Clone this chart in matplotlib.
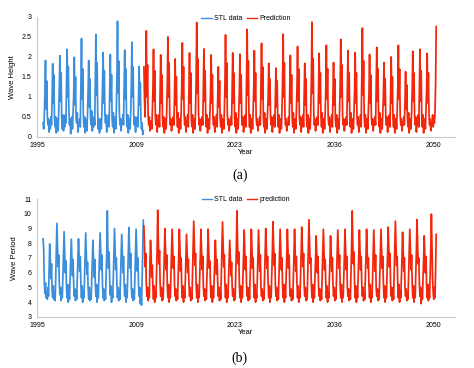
import matplotlib
matplotlib.use("Agg")
import matplotlib.pyplot as plt
import numpy as np

# samples per year (one row = one seasonal cycle)
STEPS = 12

# start of first cycle (fractional year)
OBS_START = 1995.85
PRED_START = 2009.85

# wave height, STL data, one row per year
HEIGHT_OBS = [
    [0.35, 0.20, 0.50, 1.10, 1.91, 0.70, 1.40, 0.55, 0.30, 0.45, 0.12, 0.38],
    [0.20, 0.50, 0.30, 0.95, 1.83, 0.85, 1.55, 0.45, 0.25, 0.50, 0.10, 0.30],
    [0.45, 0.15, 0.60, 1.20, 2.03, 0.90, 1.60, 0.50, 0.20, 0.55, 0.15, 0.35],
    [0.25, 0.55, 0.35, 1.30, 2.19, 1.00, 1.75, 0.60, 0.30, 0.45, 0.08, 0.40],
    [0.50, 0.20, 0.65, 1.05, 1.99, 0.80, 1.50, 0.45, 0.35, 0.60, 0.12, 0.30],
    [0.30, 0.45, 0.25, 1.35, 2.46, 0.95, 1.70, 0.55, 0.25, 0.50, 0.10, 0.45],
    [0.40, 0.15, 0.55, 1.15, 1.91, 0.75, 1.45, 0.50, 0.30, 0.65, 0.15, 0.35],
    [0.25, 0.50, 0.30, 1.40, 2.56, 1.05, 1.85, 0.60, 0.20, 0.45, 0.10, 0.40],
    [0.45, 0.20, 0.60, 1.25, 2.11, 0.85, 1.65, 0.55, 0.35, 0.55, 0.12, 0.30],
    [0.30, 0.55, 0.25, 1.10, 2.06, 0.90, 1.55, 0.45, 0.25, 0.60, 0.10, 0.35],
    [0.50, 0.20, 0.65, 1.45, 2.89, 1.10, 1.90, 0.65, 0.30, 0.45, 0.15, 0.40],
    [0.35, 0.55, 0.30, 1.20, 2.17, 0.95, 1.70, 0.50, 0.25, 0.55, 0.10, 0.35],
    [0.45, 0.20, 0.60, 1.30, 2.37, 1.00, 1.75, 0.55, 0.30, 0.50, 0.12, 0.40],
    [0.30, 0.50, 0.25, 1.00, 1.76, 0.80, 1.35, 0.45, 0.20, 0.35, 0.06, 0.15],
]

# wave height, prediction
HEIGHT_PRED = [
    [1.75, 0.90, 0.50, 1.60, 2.65, 1.00, 1.80, 0.55, 0.30, 0.50, 0.15, 0.35],
    [0.40, 0.20, 0.60, 1.20, 2.19, 0.90, 1.65, 0.50, 0.30, 0.55, 0.12, 0.35],
    [0.30, 0.55, 0.25, 1.10, 2.05, 0.85, 1.55, 0.45, 0.25, 0.50, 0.10, 0.40],
    [0.45, 0.20, 0.65, 1.35, 2.50, 1.00, 1.85, 0.55, 0.30, 0.45, 0.15, 0.35],
    [0.30, 0.50, 0.30, 1.05, 1.95, 0.80, 1.50, 0.50, 0.25, 0.60, 0.10, 0.40],
    [0.45, 0.20, 0.60, 1.25, 2.35, 0.95, 1.75, 0.55, 0.30, 0.50, 0.12, 0.35],
    [0.35, 0.55, 0.25, 1.15, 2.10, 0.85, 1.60, 0.45, 0.25, 0.55, 0.10, 0.40],
    [0.45, 0.20, 0.65, 1.45, 2.86, 1.10, 1.95, 0.60, 0.30, 0.45, 0.15, 0.35],
    [0.30, 0.50, 0.30, 1.20, 2.20, 0.90, 1.65, 0.50, 0.25, 0.55, 0.10, 0.40],
    [0.45, 0.20, 0.60, 1.10, 2.05, 0.85, 1.55, 0.50, 0.30, 0.50, 0.12, 0.35],
    [0.35, 0.55, 0.25, 0.95, 1.75, 0.75, 1.40, 0.45, 0.25, 0.55, 0.10, 0.40],
    [0.45, 0.20, 0.65, 1.35, 2.55, 1.00, 1.85, 0.55, 0.30, 0.45, 0.15, 0.35],
    [0.30, 0.50, 0.30, 1.15, 2.10, 0.85, 1.60, 0.50, 0.25, 0.60, 0.10, 0.40],
    [0.45, 0.20, 0.60, 1.10, 2.07, 0.85, 1.55, 0.50, 0.30, 0.50, 0.12, 0.35],
    [0.35, 0.55, 0.25, 1.40, 2.69, 1.05, 1.90, 0.55, 0.25, 0.55, 0.10, 0.40],
    [0.45, 0.20, 0.65, 1.20, 2.16, 0.90, 1.60, 0.50, 0.30, 0.45, 0.15, 0.35],
    [0.30, 0.50, 0.30, 1.25, 2.34, 0.95, 1.75, 0.50, 0.25, 0.60, 0.10, 0.40],
    [0.45, 0.20, 0.60, 1.00, 1.84, 0.80, 1.45, 0.50, 0.30, 0.50, 0.12, 0.35],
    [0.35, 0.55, 0.25, 0.95, 1.72, 0.75, 1.40, 0.45, 0.25, 0.55, 0.10, 0.40],
    [0.45, 0.20, 0.65, 1.35, 2.57, 1.00, 1.85, 0.55, 0.30, 0.45, 0.15, 0.35],
    [0.30, 0.50, 0.30, 1.10, 2.04, 0.85, 1.55, 0.50, 0.25, 0.60, 0.10, 0.40],
    [0.45, 0.20, 0.60, 1.20, 2.26, 0.90, 1.70, 0.50, 0.30, 0.50, 0.12, 0.35],
    [0.35, 0.55, 0.25, 1.00, 1.84, 0.80, 1.45, 0.45, 0.25, 0.55, 0.10, 0.40],
    [0.45, 0.20, 0.65, 1.45, 2.87, 1.10, 1.95, 0.60, 0.30, 0.45, 0.15, 0.35],
    [0.30, 0.50, 0.30, 1.15, 2.09, 0.85, 1.60, 0.50, 0.25, 0.60, 0.10, 0.40],
    [0.45, 0.20, 0.60, 1.20, 2.29, 0.95, 1.70, 0.50, 0.30, 0.50, 0.12, 0.35],
    [0.35, 0.55, 0.25, 1.00, 1.86, 0.80, 1.45, 0.45, 0.25, 0.55, 0.10, 0.40],
    [0.45, 0.20, 0.65, 1.30, 2.44, 1.00, 1.80, 0.55, 0.30, 0.45, 0.15, 0.35],
    [0.30, 0.50, 0.30, 1.20, 2.16, 0.90, 1.60, 0.50, 0.25, 0.60, 0.10, 0.40],
    [0.45, 0.20, 0.60, 1.15, 2.11, 0.85, 1.60, 0.50, 0.30, 0.50, 0.12, 0.35],
    [0.35, 0.55, 0.25, 1.40, 2.72, 1.05, 1.90, 0.55, 0.25, 0.55, 0.10, 0.40],
    [0.45, 0.20, 0.65, 1.10, 2.06, 0.85, 1.55, 0.50, 0.30, 0.45, 0.15, 0.35],
    [0.30, 0.50, 0.30, 1.20, 2.24, 0.90, 1.70, 0.50, 0.25, 0.60, 0.10, 0.40],
    [0.45, 0.20, 0.60, 1.00, 1.86, 0.80, 1.45, 0.50, 0.30, 0.50, 0.12, 0.35],
    [0.35, 0.55, 0.25, 1.05, 2.00, 0.85, 1.50, 0.45, 0.25, 0.55, 0.10, 0.40],
    [0.45, 0.20, 0.65, 1.20, 2.29, 0.95, 1.70, 0.55, 0.30, 0.45, 0.15, 0.35],
    [0.30, 0.50, 0.30, 0.90, 1.63, 0.70, 1.30, 0.50, 0.25, 0.60, 0.10, 0.40],
    [0.45, 0.20, 0.60, 1.15, 2.14, 0.90, 1.60, 0.50, 0.30, 0.50, 0.12, 0.35],
    [0.35, 0.55, 0.25, 1.20, 2.19, 0.90, 1.65, 0.45, 0.25, 0.55, 0.10, 0.40],
    [0.45, 0.20, 0.65, 1.15, 2.09, 0.85, 1.60, 0.55, 0.30, 0.45, 0.15, 0.35],
    [0.30, 0.55, 0.25, 0.45, 0.35, 0.60, 1.30, 2.76],
]

# wave period, STL data
PERIOD_OBS = [
    [8.30, 7.60, 5.40, 4.60, 5.30, 4.30, 4.70, 4.20, 5.00, 4.40, 6.20, 7.95],
    [6.90, 5.60, 6.60, 4.80, 4.30, 5.10, 4.20, 4.60, 4.10, 5.60, 7.40, 9.35],
    [7.80, 6.40, 7.20, 5.30, 4.50, 5.00, 4.10, 4.70, 4.30, 5.80, 7.10, 8.78],
    [7.40, 6.00, 6.80, 5.00, 4.30, 5.20, 4.00, 4.60, 4.20, 5.50, 6.90, 8.27],
    [7.10, 5.80, 6.90, 5.20, 4.40, 4.90, 4.10, 4.80, 4.20, 5.70, 7.00, 8.30],
    [7.20, 6.10, 7.10, 5.10, 4.30, 5.10, 4.00, 4.70, 4.30, 5.60, 7.20, 8.70],
    [7.30, 5.90, 6.70, 5.00, 4.20, 5.00, 4.10, 4.60, 4.20, 5.40, 6.80, 8.20],
    [7.00, 5.70, 6.90, 5.30, 4.40, 5.20, 4.00, 4.80, 4.30, 5.80, 7.10, 8.70],
    [7.50, 6.20, 7.20, 5.10, 4.30, 4.90, 4.10, 4.60, 4.20, 5.90, 7.30, 10.20],
    [7.60, 6.30, 7.40, 5.40, 4.50, 5.10, 4.00, 4.70, 4.30, 5.70, 7.40, 9.00],
    [7.70, 6.20, 7.00, 5.20, 4.30, 5.00, 4.10, 4.80, 4.20, 5.60, 7.00, 8.60],
    [7.40, 6.00, 7.10, 5.30, 4.40, 5.20, 4.00, 4.60, 4.30, 5.80, 7.30, 9.08],
    [7.70, 6.30, 7.30, 5.10, 4.30, 4.90, 4.10, 4.70, 4.20, 5.70, 7.20, 8.95],
    [7.60, 6.10, 7.00, 5.20, 4.40, 5.00, 3.90, 4.60, 3.80, 5.60, 7.40, 9.57],
]

# wave period, prediction
PERIOD_PRED = [
    [9.17, 7.80, 6.40, 7.30, 5.20, 4.40, 5.00, 4.10, 4.60, 4.30, 6.60, 8.20],
    [7.10, 5.70, 6.50, 4.90, 4.20, 5.10, 4.00, 4.70, 4.30, 5.90, 7.60, 10.25],
    [8.20, 6.60, 7.50, 5.30, 4.40, 5.00, 4.10, 4.80, 4.20, 5.70, 7.30, 9.00],
    [7.70, 6.20, 7.20, 5.10, 4.30, 5.20, 4.00, 4.60, 4.30, 5.80, 7.20, 8.95],
    [7.60, 6.30, 7.10, 5.20, 4.40, 4.90, 4.10, 4.70, 4.20, 5.60, 7.10, 8.95],
    [7.70, 6.10, 7.00, 5.00, 4.30, 5.10, 4.00, 4.80, 4.30, 5.50, 7.00, 8.60],
    [7.30, 6.00, 6.90, 5.30, 4.40, 5.00, 4.10, 4.60, 4.20, 5.90, 7.40, 9.50],
    [8.00, 6.50, 7.30, 5.20, 4.30, 5.20, 4.00, 4.70, 4.30, 5.70, 7.20, 8.95],
    [7.60, 6.20, 7.10, 5.10, 4.40, 4.90, 4.10, 4.80, 4.20, 5.80, 7.10, 8.95],
    [7.70, 6.30, 6.80, 5.00, 4.30, 5.10, 4.00, 4.60, 4.30, 5.50, 6.80, 8.20],
    [7.10, 5.90, 6.90, 5.30, 4.40, 5.00, 4.10, 4.70, 4.20, 5.90, 7.50, 9.45],
    [8.00, 6.40, 7.20, 5.20, 4.30, 5.20, 4.00, 4.80, 4.30, 5.60, 6.90, 8.20],
    [7.00, 5.80, 6.70, 5.10, 4.40, 4.90, 4.10, 4.60, 4.20, 6.00, 7.70, 10.20],
    [8.10, 6.60, 7.40, 5.30, 4.30, 5.10, 4.00, 4.70, 4.30, 5.70, 7.20, 8.90],
    [7.60, 6.20, 7.10, 5.20, 4.40, 5.00, 4.10, 4.80, 4.20, 5.80, 7.10, 8.95],
    [7.70, 6.30, 7.00, 5.10, 4.30, 5.20, 4.00, 4.60, 4.30, 5.60, 7.20, 8.90],
    [7.60, 6.10, 7.20, 5.00, 4.40, 4.90, 4.10, 4.70, 4.20, 5.70, 7.30, 9.00],
    [7.70, 6.30, 7.10, 5.30, 4.30, 5.10, 4.00, 4.80, 4.30, 5.90, 7.40, 9.46],
    [8.00, 6.50, 7.30, 5.20, 4.40, 5.00, 4.10, 4.60, 4.20, 5.80, 7.20, 8.95],
    [7.60, 6.20, 7.00, 5.10, 4.30, 5.20, 4.00, 4.70, 4.30, 5.70, 7.10, 8.95],
    [7.70, 6.30, 7.20, 5.00, 4.40, 4.90, 4.10, 4.80, 4.20, 5.60, 7.20, 8.95],
    [7.60, 6.10, 7.10, 5.30, 4.30, 5.10, 4.00, 4.60, 4.30, 5.80, 7.30, 9.10],
    [7.80, 6.40, 7.30, 5.20, 4.40, 5.00, 4.10, 4.70, 4.20, 5.90, 7.50, 9.60],
    [8.10, 6.60, 7.00, 5.10, 4.30, 5.20, 4.00, 4.80, 4.30, 5.50, 6.90, 8.50],
    [7.30, 6.00, 7.10, 5.00, 4.40, 4.90, 4.10, 4.60, 4.20, 5.70, 7.20, 8.95],
    [7.60, 6.20, 6.90, 5.30, 4.30, 5.10, 4.00, 4.70, 4.30, 5.60, 6.90, 8.50],
    [7.30, 6.10, 7.00, 5.20, 4.40, 5.00, 4.10, 4.80, 4.20, 5.80, 7.20, 8.90],
    [7.60, 6.30, 7.20, 5.10, 4.30, 5.20, 4.00, 4.60, 4.30, 5.70, 7.10, 8.95],
    [7.60, 6.20, 7.10, 5.00, 4.40, 4.90, 4.10, 4.70, 4.20, 6.00, 7.70, 10.20],
    [8.20, 6.60, 7.40, 5.30, 4.30, 5.10, 4.00, 4.80, 4.30, 5.70, 7.20, 8.90],
    [7.60, 6.20, 7.10, 5.20, 4.40, 5.00, 4.10, 4.60, 4.20, 5.80, 7.10, 8.95],
    [7.70, 6.30, 7.00, 5.10, 4.30, 5.20, 4.00, 4.70, 4.30, 5.60, 7.20, 8.90],
    [7.60, 6.10, 7.20, 5.00, 4.40, 4.90, 4.10, 4.80, 4.20, 5.70, 7.10, 8.95],
    [7.70, 6.30, 7.10, 5.30, 4.30, 5.10, 4.00, 4.60, 4.30, 5.80, 7.30, 9.10],
    [7.80, 6.40, 7.30, 5.20, 4.40, 5.00, 4.10, 4.70, 4.20, 5.90, 7.40, 9.50],
    [8.00, 6.50, 7.10, 5.10, 4.30, 5.20, 4.00, 4.80, 4.30, 5.60, 7.00, 8.75],
    [7.50, 6.10, 7.00, 5.00, 4.40, 4.90, 4.10, 4.60, 4.20, 5.70, 7.20, 8.95],
    [7.60, 6.20, 7.20, 5.30, 4.30, 5.10, 4.00, 4.70, 4.30, 5.90, 7.50, 9.60],
    [8.10, 6.60, 7.00, 5.20, 4.40, 5.00, 3.90, 4.80, 4.20, 5.50, 6.90, 8.50],
    [7.30, 6.00, 7.10, 5.10, 4.30, 5.20, 4.10, 4.60, 4.30, 5.90, 7.60, 9.98],
    [7.80, 5.60, 4.60, 4.20, 5.00, 4.30, 6.20, 8.60],
]

TICK_POS = [1995, 2008.75, 2022.5, 2036.25, 2050]
TICK_LABELS = ["1995", "2009", "2023", "2036", "2050"]

BLUE = "#3a8edc"
RED = "#f3260b"
SPINE = "#c8c8c8"
FONT = "Liberation Sans"


def _series(rows, start):
    y = np.concatenate([np.asarray(r, dtype=float) for r in rows])
    x = start + np.arange(len(y)) / STEPS
    return x, y


def draw_panel(ax, obs, pred, ylim, yticks, ytick_labels, ylabel, pred_label, legend_y):
    xo, yo = _series(obs, OBS_START)
    xp, yp = _series(pred, PRED_START)
    ax.plot(xo, yo, color=BLUE, lw=1.25, label="STL data")
    ax.plot(xp, yp, color=RED, lw=1.25, label=pred_label)

    ax.set_xlim(1995, 2053.05)
    ax.set_ylim(*ylim)
    ax.set_xticks(TICK_POS)
    ax.set_xticklabels(TICK_LABELS, fontsize=5, family=FONT)
    ax.set_yticks(yticks)
    ax.set_yticklabels(ytick_labels, fontsize=5, family=FONT)
    ax.tick_params(length=0, pad=4)
    for side in ("top", "right"):
        ax.spines[side].set_visible(False)
    for side in ("left", "bottom"):
        ax.spines[side].set_color(SPINE)
        ax.spines[side].set_linewidth(0.8)
    ax.set_ylabel(ylabel, fontsize=5.5, family=FONT, labelpad=4)
    ax.set_xlabel("Year", fontsize=5.5, family=FONT, labelpad=0)
    leg = ax.legend(loc="center", bbox_to_anchor=(0.5, legend_y), ncol=2,
                    frameon=False, handlelength=1.5, handletextpad=0.3,
                    columnspacing=0.6, prop={"family": FONT, "size": 5})
    for line in leg.get_lines():
        line.set_linewidth(1.0)


fig = plt.figure(figsize=(4.74, 3.68), dpi=100)
ax_a = fig.add_axes([0.078, 0.628, 0.882, 0.326])
ax_b = fig.add_axes([0.078, 0.139, 0.882, 0.320])

draw_panel(ax_a, HEIGHT_OBS, HEIGHT_PRED, (0, 3),
           [0, 0.5, 1, 1.5, 2, 2.5, 3], ["0", "0.5", "1", "1.5", "2", "2.5", "3"],
           "Wave Height", "Prediction", 0.985)
draw_panel(ax_b, PERIOD_OBS, PERIOD_PRED, (3, 11),
           list(range(3, 12)), [str(v) for v in range(3, 12)],
           "Wave Period", "prediction", 0.995)

fig.text(0.506, 0.523, "(a)", ha="center", va="center", fontsize=10, family="Liberation Serif")
fig.text(0.506, 0.027, "(b)", ha="center", va="center", fontsize=10, family="Liberation Serif")

fig.savefig("out.png", dpi=100)
